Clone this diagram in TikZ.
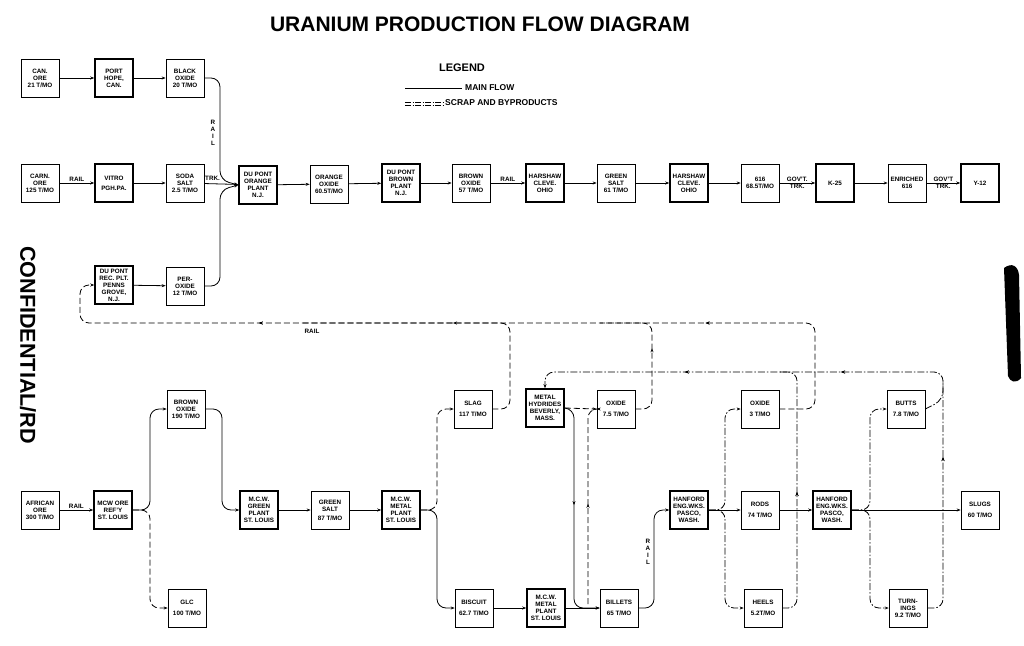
\documentclass[tikz,border=0pt]{standalone}
\usepackage{fontspec}
\setmainfont{Liberation Sans}
\usetikzlibrary{arrows.meta,decorations.markings}
\begin{document}
\begin{tikzpicture}[x=1pt,y=-1pt,
  box/.style={draw,line width=0.7pt,minimum width=38pt,minimum height=38pt,inner sep=0.3pt,align=center,font=\fontsize{6.3}{7}\selectfont\bfseries},
  plant/.style={box,line width=1.5pt},
  flow/.style={line width=0.8pt,-{Stealth[length=4pt,width=3pt]},rounded corners=9pt},
  scrap/.style={line width=0.8pt,dash pattern=on 6pt off 3pt,rounded corners=9pt},
  byp/.style={line width=0.8pt,dash pattern=on 7pt off 2pt on 1.5pt off 2pt,rounded corners=9pt},
  tip/.style={-{Stealth[length=4pt,width=3pt]}},
  midl/.style={postaction={decorate},decoration={markings,mark=at position #1 with {\arrow{Stealth[length=4pt,width=3pt]}}}},
  lab/.style={font=\fontsize{6.3}{7}\selectfont\bfseries,inner sep=1pt}]
\useasboundingbox (0,0) rectangle (1024,645);
\node[font=\fontsize{20}{22}\selectfont\bfseries,scale=1.05] (title) at (480,24) {URANIUM PRODUCTION FLOW DIAGRAM};
% legend
\node[font=\fontsize{11}{12}\selectfont\bfseries] (leg) at (462,68) {LEGEND};
\coordinate (l1a) at (405,88); \coordinate (l1b) at (462,88);
\draw[line width=0.6pt] (l1a) -- (l1b);
\node[lab,anchor=west,font=\fontsize{8.5}{9}\selectfont\bfseries] (lmf) at (464,88) {MAIN FLOW};
\coordinate (l2a) at (405,102); \coordinate (l2b) at (444,102);
\coordinate (l3a) at (405,105); \coordinate (l3b) at (444,105);
\draw[line width=0.5pt,dash pattern=on 6pt off 1.5pt on 1pt off 1.5pt] (l2a) -- (l2b);
\draw[line width=0.5pt,dash pattern=on 6pt off 1.5pt on 1pt off 1.5pt] (l3a) -- (l3b);
\node[lab,anchor=west,font=\fontsize{8.5}{9}\selectfont\bfseries] (lsb) at (444,103) {SCRAP AND BYPRODUCTS};
% confidential
\node[rotate=-90,font=\fontsize{24}{26}\selectfont\bfseries,scale=0.9] (conf) at (28,345) {CONFIDENTIAL/RD};
\fill (1004,268) .. controls (1012,262) and (1018,266) .. (1019,275) -- (1021,378) .. controls (1016,384) and (1010,382) .. (1008,376) -- cycle;
% row 1
\node[box] (can) at (40,78) {CAN.\\ORE\\21 T/MO};
\node[plant] (port) at (114,78) {PORT\\HOPE,\\CAN.};
\node[box] (blk) at (185,78) {BLACK\\OXIDE\\20 T/MO};
% row 2
\node[box] (carn) at (40,183) {CARN.\\ORE\\125 T/MO};
\node[plant] (vitro) at (114,183) {VITRO\\[3pt]PGH.PA.};
\node[box] (soda) at (185,183) {SODA\\SALT\\2.5 T/MO};
\node[plant] (dpo) at (258,185) {DU PONT\\ORANGE\\PLANT\\N.J.};
\node[box] (oox) at (329,184) {ORANGE\\OXIDE\\60.5T/MO};
\node[plant] (dpb) at (401,183) {DU PONT\\BROWN\\PLANT\\N.J.};
\node[box] (box1) at (471,183) {BROWN\\OXIDE\\57 T/MO};
\node[plant] (har1) at (545,183) {HARSHAW\\CLEVE.\\OHIO};
\node[box] (gs1) at (616,183) {GREEN\\SALT\\61 T/MO};
\node[plant] (har2) at (689,183) {HARSHAW\\CLEVE.\\OHIO};
\node[box] (s616) at (760,183) {616\\68.5T/MO};
\node[plant] (k25) at (835,183) {K-25};
\node[box] (enr) at (907,183) {ENRICHED\\616};
\node[plant] (y12) at (980,183) {Y-12};
% row 3
\node[plant] (rec) at (114,285) {DU PONT\\REC. PLT.\\PENNS\\GROVE,\\N.J.};
\node[box] (per) at (185,286) {PER-\\OXIDE\\12 T/MO};
% bottom
\node[box] (bo190) at (186,409) {BROWN\\OXIDE\\190 T/MO};
\node[box] (glc) at (187,608) {GLC\\[4pt]100 T/MO};
\node[box] (afr) at (40,510) {AFRICAN\\ORE\\300 T/MO};
\node[plant] (mcwore) at (113,510) {MCW ORE\\REF'Y\\ST. LOUIS};
\node[plant] (mcwg) at (259,510) {M.C.W.\\GREEN\\PLANT\\ST. LOUIS};
\node[box] (gs2) at (330,510) {GREEN\\SALT\\[2pt]87 T/MO};
\node[plant] (mcwm) at (401,510) {M.C.W.\\METAL\\PLANT\\ST. LOUIS};
\node[box] (slag) at (473,409) {SLAG\\[4pt]117 T/MO};
\node[box] (bisc) at (474,608) {BISCUIT\\[4pt]62.7 T/MO};
\node[plant] (mh) at (545,408) {METAL\\HYDRIDES\\BEVERLY,\\MASS.};
\node[plant] (mcwm2) at (546,608) {M.C.W.\\METAL\\PLANT\\ST. LOUIS};
\node[box] (ox75) at (616,409) {OXIDE\\[4pt]7.5 T/MO};
\node[box] (bil) at (619,608) {BILLETS\\[4pt]65 T/MO};
\node[plant] (han1) at (689,510) {HANFORD\\ENG.WKS.\\PASCO,\\WASH.};
\node[box] (rods) at (760,510) {RODS\\[4pt]74 T/MO};
\node[box] (ox3) at (760,409) {OXIDE\\[4pt]3 T/MO};
\node[box] (heels) at (763,608) {HEELS\\[4pt]5.2T/MO};
\node[plant] (han2) at (832,510) {HANFORD\\ENG.WKS.\\PASCO,\\WASH.};
\node[box] (butts) at (906,409) {BUTTS\\[4pt]7.8 T/MO};
\node[box] (turn) at (908,608) {TURN-\\INGS\\9.2 T/MO};
\node[box] (slugs) at (980,510) {SLUGS\\[4pt]60 T/MO};
% main flows top
\draw[flow] (can) -- (port);
\draw[flow] (port) -- (blk);
\draw[flow] (blk.east) -- (220,78) -- (220,180) -- (dpo.west);
\node[lab,align=center] (rl1) at (213,133) {R\\A\\I\\L};
\draw[flow] (carn) -- node[lab,above] (rl2) {RAIL} (vitro);
\draw[flow] (vitro) -- (soda);
\draw[flow] (soda) -- (dpo);
\node[lab,anchor=south west] (trk) at (204,182) {TRK.};
\draw[flow] (per.east) -- (220,286) -- (220,190) -- (dpo.west);
\draw[flow] (rec) -- (per);
\draw[flow] (dpo) -- (oox);
\draw[flow] (oox) -- (dpb);
\draw[flow] (dpb) -- (box1);
\draw[flow] (box1) -- node[lab,above] (rl3) {RAIL} (har1);
\draw[flow] (har1) -- (gs1);
\draw[flow] (gs1) -- (har2);
\draw[flow] (har2) -- (s616);
\draw[flow] (s616) -- node[lab,align=center] (gt1) {GOV'T.\\TRK.} (k25);
\draw[flow] (k25) -- (enr);
\draw[flow] (enr) -- node[lab,align=center] (gt2) {GOV'T\\TRK.} (y12);
% main flows bottom
\draw[flow] (afr) -- node[lab,above] (rl4) {RAIL} (mcwore);
\draw[flow] (mcwore.east) -- (150,510) -- (150,409) -- (bo190.west);
\draw[flow] (bo190.east) -- (222,409) -- (222,510) -- (mcwg.west);
\draw[flow] (mcwg) -- (gs2);
\draw[flow] (gs2) -- (mcwm);
\draw[flow] (mcwm.east) -- (437,510) -- (437,608) -- (bisc.west);
\draw[flow] (bisc) -- (mcwm2);
\draw[flow] (mcwm2) -- (bil);
\draw[flow,midl=0.45] (mh.east) -- (574,409) -- (574,608) -- (bil.west);
\draw[flow] (bil.east) -- (654,608) -- (654,510) -- (han1.west);
\node[lab,align=center] (rl5) at (648,552) {R\\A\\I\\L};
\draw[flow] (han1) -- (rods);
\draw[flow] (rods) -- (han2);
\draw[flow] (han2) -- (slugs);
% scrap (dashed)
\draw[scrap,tip] (mcwore.east) -- (150,510) -- (150,608) -- (glc.west);
\draw[scrap,tip] (mcwm.east) -- (437,510) -- (437,409) -- (slag.west);
\draw[scrap,midl=0.25,midl=0.75,tip] (ox3.east) -- (815,409) -- (815,323) -- (80,323) -- (80,285) -- (rec.west);
\draw[scrap,midl=0.5] (slag.east) -- (510,409) -- (510,323) -- (300,323);
\draw[scrap,midl=0.5] (ox75.east) -- (652,409) -- (652,323) -- (600,323);
\node[lab] (rl6) at (312,331) {RAIL};
\draw[scrap,tip] (mh.east) -- (ox75.west);
\draw[scrap,midl=0.5,tip] (588,604) -- (588,409) -- (ox75.west);
% byproducts (dash-dot)
\draw[byp,tip] (han1.east) -- (725,510) -- (725,409) -- (ox3.west);
\draw[byp,tip] (han1.east) -- (725,510) -- (725,608) -- (heels.west);
\draw[byp,midl=0.25,midl=0.7,tip] (heels.east) -- (797,608) -- (797,372) -- (545,372) -- (mh.north);
\draw[byp,tip] (han2.east) -- (870,510) -- (870,409) -- (butts.west);
\draw[byp,tip] (han2.east) -- (870,510) -- (870,608) -- (turn.west);
\draw[byp,midl=0.4,midl=0.85] (turn.east) -- (943,608) -- (943,372) -- (780,372);
\draw[byp] (butts.east) -- (943,400) -- (943,380);
\end{tikzpicture}
\end{document}
